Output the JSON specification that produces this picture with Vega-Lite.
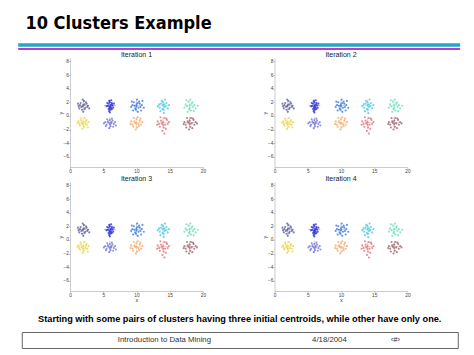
{
  "$schema": "https://vega.github.io/schema/vega-lite/v6.json",
  "background": "white",
  "padding": {"left": 16, "top": 15, "right": 16, "bottom": 4},
  "title": {"text": "10 Clusters Example", "anchor": "start", "frame": "bounds", "font": "DejaVu Sans Condensed, DejaVu Sans", "fontSize": 18, "fontWeight": "bold", "color": "#000000", "offset": 10, "dx": 9},
  "datasets": {
    "hdr": [{"band": "cyan"}, {"band": "magenta"}],
    "ftr": [{"label": "Introduction to Data Mining"}, {"label": "4/18/2004"}, {"label": "‹#›"}],
    "cent": [
      {"x": 2, "y": 1.5, "c": "a"}, {"x": 6, "y": 1.5, "c": "b"}, {"x": 10, "y": 1.5, "c": "c"}, {"x": 14, "y": 1.5, "c": "d"}, {"x": 18, "y": 1.5, "c": "e"},
      {"x": 2, "y": -1, "c": "f"}, {"x": 6, "y": -1, "c": "g"}, {"x": 10, "y": -1, "c": "h"}, {"x": 14, "y": -1, "c": "i"}, {"x": 18, "y": -1, "c": "j"}
    ],
    "pts": [
      {"x":1.6,"y":1.9,"c":"a"},{"x":2.3,"y":1.2,"c":"a"},{"x":1.9,"y":1.4,"c":"a"},{"x":2.5,"y":1.8,"c":"a"},{"x":1.4,"y":1.1,"c":"a"},{"x":2.1,"y":2.2,"c":"a"},{"x":1.8,"y":0.9,"c":"a"},{"x":2.7,"y":1.5,"c":"a"},{"x":2.0,"y":1.6,"c":"a"},{"x":1.5,"y":1.6,"c":"a"},{"x":2.2,"y":1.0,"c":"a"},{"x":2.4,"y":2.0,"c":"a"},{"x":1.7,"y":1.3,"c":"a"},{"x":2.9,"y":1.1,"c":"a"},{"x":1.2,"y":1.8,"c":"a"},{"x":2.0,"y":0.6,"c":"a"},{"x":2.6,"y":1.3,"c":"a"},{"x":1.9,"y":2.4,"c":"a"},{"x":1.3,"y":1.4,"c":"a"},{"x":2.2,"y":1.7,"c":"a"},
      {"x":5.8,"y":1.8,"c":"b"},{"x":6.1,"y":1.6,"c":"b"},{"x":6.3,"y":1.9,"c":"b"},{"x":5.9,"y":1.3,"c":"b"},{"x":6.2,"y":1.2,"c":"b"},{"x":6.0,"y":2.0,"c":"b"},{"x":5.7,"y":1.5,"c":"b"},{"x":6.4,"y":1.5,"c":"b"},{"x":6.1,"y":0.9,"c":"b"},{"x":5.9,"y":0.7,"c":"b"},{"x":6.3,"y":1.7,"c":"b"},{"x":6.0,"y":1.1,"c":"b"},{"x":5.6,"y":1.9,"c":"b"},{"x":6.2,"y":2.3,"c":"b"},{"x":6.5,"y":1.2,"c":"b"},{"x":5.8,"y":1.0,"c":"b"},{"x":6.1,"y":1.4,"c":"b"},{"x":6.0,"y":0.5,"c":"b"},{"x":6.6,"y":1.8,"c":"b"},{"x":5.5,"y":1.4,"c":"b"},{"x":6.3,"y":1.0,"c":"b"},{"x":5.9,"y":2.2,"c":"b"},
      {"x":9.4,"y":1.6,"c":"c"},{"x":10.2,"y":1.9,"c":"c"},{"x":10.6,"y":1.3,"c":"c"},{"x":9.8,"y":1.1,"c":"c"},{"x":10.0,"y":1.7,"c":"c"},{"x":10.4,"y":2.1,"c":"c"},{"x":9.6,"y":2.0,"c":"c"},{"x":10.8,"y":1.6,"c":"c"},{"x":9.9,"y":0.9,"c":"c"},{"x":10.3,"y":1.2,"c":"c"},{"x":9.2,"y":1.3,"c":"c"},{"x":10.1,"y":2.4,"c":"c"},{"x":10.7,"y":0.8,"c":"c"},{"x":9.7,"y":1.5,"c":"c"},{"x":10.5,"y":1.8,"c":"c"},{"x":9.5,"y":0.8,"c":"c"},{"x":11.1,"y":1.2,"c":"c"},{"x":10.0,"y":1.4,"c":"c"},{"x":9.3,"y":2.1,"c":"c"},{"x":10.2,"y":0.6,"c":"c"},{"x":10.9,"y":2.2,"c":"c"},
      {"x":13.7,"y":1.8,"c":"d"},{"x":14.2,"y":1.3,"c":"d"},{"x":14.0,"y":1.6,"c":"d"},{"x":13.5,"y":1.2,"c":"d"},{"x":14.5,"y":1.9,"c":"d"},{"x":14.1,"y":0.9,"c":"d"},{"x":13.8,"y":2.2,"c":"d"},{"x":14.4,"y":1.4,"c":"d"},{"x":13.9,"y":1.0,"c":"d"},{"x":14.3,"y":2.4,"c":"d"},{"x":13.4,"y":1.7,"c":"d"},{"x":14.7,"y":1.1,"c":"d"},{"x":14.0,"y":2.0,"c":"d"},{"x":13.6,"y":0.7,"c":"d"},{"x":14.2,"y":1.7,"c":"d"},{"x":14.9,"y":1.6,"c":"d"},{"x":13.2,"y":1.4,"c":"d"},{"x":14.1,"y":0.4,"c":"d"},
      {"x":17.6,"y":1.4,"c":"e"},{"x":18.3,"y":1.8,"c":"e"},{"x":18.0,"y":1.2,"c":"e"},{"x":17.8,"y":2.1,"c":"e"},{"x":18.5,"y":1.3,"c":"e"},{"x":18.2,"y":0.8,"c":"e"},{"x":17.4,"y":1.7,"c":"e"},{"x":18.7,"y":1.6,"c":"e"},{"x":17.9,"y":1.0,"c":"e"},{"x":18.1,"y":2.4,"c":"e"},{"x":17.2,"y":1.2,"c":"e"},{"x":18.4,"y":2.0,"c":"e"},{"x":18.9,"y":1.1,"c":"e"},{"x":17.7,"y":0.6,"c":"e"},{"x":18.0,"y":1.6,"c":"e"},{"x":18.6,"y":0.7,"c":"e"},{"x":17.5,"y":2.3,"c":"e"},{"x":19.2,"y":1.5,"c":"e"},
      {"x":1.7,"y":-0.7,"c":"f"},{"x":2.3,"y":-1.2,"c":"f"},{"x":2.0,"y":-0.9,"c":"f"},{"x":1.5,"y":-1.4,"c":"f"},{"x":2.5,"y":-0.6,"c":"f"},{"x":2.1,"y":-1.6,"c":"f"},{"x":1.8,"y":-1.1,"c":"f"},{"x":2.6,"y":-1.3,"c":"f"},{"x":1.3,"y":-0.8,"c":"f"},{"x":2.2,"y":-0.3,"c":"f"},{"x":1.9,"y":-1.9,"c":"f"},{"x":2.8,"y":-0.9,"c":"f"},{"x":1.4,"y":-1.2,"c":"f"},{"x":2.0,"y":-1.3,"c":"f"},{"x":2.4,"y":-0.8,"c":"f"},{"x":1.1,"y":-1.0,"c":"f"},{"x":2.7,"y":-1.7,"c":"f"},{"x":1.6,"y":-0.4,"c":"f"},
      {"x":5.7,"y":-0.8,"c":"g"},{"x":6.2,"y":-1.1,"c":"g"},{"x":6.0,"y":-0.6,"c":"g"},{"x":5.5,"y":-1.3,"c":"g"},{"x":6.4,"y":-0.7,"c":"g"},{"x":6.1,"y":-1.5,"c":"g"},{"x":5.8,"y":-1.0,"c":"g"},{"x":6.6,"y":-1.2,"c":"g"},{"x":5.3,"y":-0.9,"c":"g"},{"x":6.3,"y":-0.4,"c":"g"},{"x":5.9,"y":-1.8,"c":"g"},{"x":6.8,"y":-0.9,"c":"g"},{"x":5.4,"y":-1.5,"c":"g"},{"x":6.0,"y":-1.2,"c":"g"},{"x":6.5,"y":-1.6,"c":"g"},{"x":5.6,"y":-0.5,"c":"g"},{"x":6.2,"y":-0.9,"c":"g"},{"x":5.1,"y":-1.1,"c":"g"},{"x":6.9,"y":-1.4,"c":"g"},
      {"x":9.7,"y":-0.8,"c":"h"},{"x":10.3,"y":-1.2,"c":"h"},{"x":10.0,"y":-0.5,"c":"h"},{"x":9.4,"y":-1.3,"c":"h"},{"x":10.5,"y":-0.7,"c":"h"},{"x":10.1,"y":-1.7,"c":"h"},{"x":9.8,"y":-1.0,"c":"h"},{"x":10.7,"y":-1.3,"c":"h"},{"x":9.2,"y":-0.8,"c":"h"},{"x":10.2,"y":-0.2,"c":"h"},{"x":9.9,"y":-2.0,"c":"h"},{"x":10.9,"y":-0.9,"c":"h"},{"x":9.5,"y":-1.6,"c":"h"},{"x":10.0,"y":-1.1,"c":"h"},{"x":10.4,"y":-1.5,"c":"h"},{"x":9.1,"y":-1.2,"c":"h"},{"x":10.6,"y":-0.4,"c":"h"},{"x":9.6,"y":-0.3,"c":"h"},
      {"x":13.7,"y":-0.7,"c":"i"},{"x":14.3,"y":-1.3,"c":"i"},{"x":14.0,"y":-0.9,"c":"i"},{"x":13.4,"y":-1.2,"c":"i"},{"x":14.6,"y":-0.6,"c":"i"},{"x":14.1,"y":-1.7,"c":"i"},{"x":13.8,"y":-1.1,"c":"i"},{"x":14.7,"y":-1.2,"c":"i"},{"x":13.2,"y":-0.8,"c":"i"},{"x":14.2,"y":-0.3,"c":"i"},{"x":13.9,"y":-2.2,"c":"i"},{"x":14.9,"y":-0.9,"c":"i"},{"x":13.5,"y":-1.6,"c":"i"},{"x":14.0,"y":-1.3,"c":"i"},{"x":14.4,"y":-1.9,"c":"i"},{"x":13.1,"y":-1.3,"c":"i"},{"x":14.5,"y":-0.4,"c":"i"},{"x":13.6,"y":-0.2,"c":"i"},{"x":14.2,"y":-2.6,"c":"i"},
      {"x":17.7,"y":-0.8,"c":"j"},{"x":18.3,"y":-1.1,"c":"j"},{"x":18.0,"y":-0.7,"c":"j"},{"x":17.4,"y":-1.3,"c":"j"},{"x":18.6,"y":-0.6,"c":"j"},{"x":18.1,"y":-1.6,"c":"j"},{"x":17.8,"y":-1.0,"c":"j"},{"x":18.7,"y":-1.3,"c":"j"},{"x":17.2,"y":-0.9,"c":"j"},{"x":18.2,"y":-0.3,"c":"j"},{"x":17.9,"y":-2.0,"c":"j"},{"x":18.9,"y":-0.9,"c":"j"},{"x":17.5,"y":-1.7,"c":"j"},{"x":18.0,"y":-1.2,"c":"j"},{"x":18.4,"y":-1.8,"c":"j"},{"x":17.1,"y":-1.2,"c":"j"},{"x":18.5,"y":-0.4,"c":"j"},{"x":17.6,"y":-0.3,"c":"j"},{"x":19.1,"y":-1.1,"c":"j"}
    ]
  },
  "vconcat": [
    {
      "spacing": 0,
      "center": true,
      "resolve": {"scale": {"color": "independent", "strokeWidth": "independent"}},
      "vconcat": [
        {
          "width": 442, "height": 4,
          "data": {"name": "hdr"},
          "mark": {"type": "rule"},
          "encoding": {
            "y": {"field": "band", "type": "nominal", "scale": {"type": "point", "domain": ["cyan", "magenta"], "padding": 0}, "axis": null},
            "color": {"field": "band", "type": "nominal", "scale": {"domain": ["cyan", "magenta"], "range": ["#22a7c9", "#bb3ac6"]}, "legend": null},
            "strokeWidth": {"field": "band", "type": "ordinal", "scale": {"domain": ["cyan", "magenta"], "range": [3.5, 2]}, "legend": null}
          }
        },
        {
          "hconcat": [
            {
              "width": 133, "height": 109, "title": "Iteration 1",
              "encoding": {
                "x": {"field": "x", "type": "quantitative", "scale": {"domain": [0, 20], "nice": false, "zero": false}, "axis": {"values": [0, 5, 10, 15, 20], "title": null}},
                "y": {"field": "y", "type": "quantitative", "scale": {"domain": [-7.5, 8.5], "nice": false, "zero": false}, "axis": {"values": [-6, -4, -2, 0, 2, 4, 6, 8], "title": "y"}},
                "color": {"field": "c", "type": "nominal", "scale": {"domain": ["a","b","c","d","e","f","g","h","i","j"], "range": ["#55559a","#1f22cf","#2d6fd4","#3ec6e2","#63dcb0","#e6d23f","#6d6fd6","#f0a462","#df6b74","#9a5a66"]}, "legend": null}
              },
              "layer": [
                {"data": {"name": "cent"}, "mark": {"type": "point", "shape": "M-1,0L1,0M0,-1L0,1", "filled": false, "size": 140, "strokeWidth": 0.6, "opacity": 0.6}},
                {"data": {"name": "pts"}, "mark": {"type": "point", "filled": true, "size": 4.5, "opacity": 0.75, "strokeWidth": 0}}
              ]
            },
            {
              "width": 133, "height": 109, "title": "Iteration 2",
              "encoding": {
                "x": {"field": "x", "type": "quantitative", "scale": {"domain": [0, 20], "nice": false, "zero": false}, "axis": {"values": [0, 5, 10, 15, 20], "title": null}},
                "y": {"field": "y", "type": "quantitative", "scale": {"domain": [-7.5, 8.5], "nice": false, "zero": false}, "axis": {"values": [-6, -4, -2, 0, 2, 4, 6, 8], "title": "y"}},
                "color": {"field": "c", "type": "nominal", "scale": {"domain": ["a","b","c","d","e","f","g","h","i","j"], "range": ["#55559a","#1f22cf","#2d6fd4","#3ec6e2","#63dcb0","#e6d23f","#6d6fd6","#f0a462","#df6b74","#9a5a66"]}, "legend": null}
              },
              "layer": [
                {"data": {"name": "cent"}, "mark": {"type": "point", "shape": "M-1,0L1,0M0,-1L0,1", "filled": false, "size": 140, "strokeWidth": 0.6, "opacity": 0.6}},
                {"data": {"name": "pts"}, "mark": {"type": "point", "filled": true, "size": 4.5, "opacity": 0.75, "strokeWidth": 0}}
              ]
            }
          ],
          "spacing": 71.5,
          "bounds": "flush"
        },
        {
          "hconcat": [
            {
              "width": 133, "height": 109, "title": "Iteration 3",
              "encoding": {
                "x": {"field": "x", "type": "quantitative", "scale": {"domain": [0, 20], "nice": false, "zero": false}, "axis": {"values": [0, 5, 10, 15, 20], "title": "x"}},
                "y": {"field": "y", "type": "quantitative", "scale": {"domain": [-7.5, 8.5], "nice": false, "zero": false}, "axis": {"values": [-6, -4, -2, 0, 2, 4, 6, 8], "title": "y"}},
                "color": {"field": "c", "type": "nominal", "scale": {"domain": ["a","b","c","d","e","f","g","h","i","j"], "range": ["#55559a","#1f22cf","#2d6fd4","#3ec6e2","#63dcb0","#e6d23f","#6d6fd6","#f0a462","#df6b74","#9a5a66"]}, "legend": null}
              },
              "layer": [
                {"data": {"name": "cent"}, "mark": {"type": "point", "shape": "M-1,0L1,0M0,-1L0,1", "filled": false, "size": 140, "strokeWidth": 0.6, "opacity": 0.6}},
                {"data": {"name": "pts"}, "mark": {"type": "point", "filled": true, "size": 4.5, "opacity": 0.75, "strokeWidth": 0}}
              ]
            },
            {
              "width": 133, "height": 109, "title": "Iteration 4",
              "encoding": {
                "x": {"field": "x", "type": "quantitative", "scale": {"domain": [0, 20], "nice": false, "zero": false}, "axis": {"values": [0, 5, 10, 15, 20], "title": "x"}},
                "y": {"field": "y", "type": "quantitative", "scale": {"domain": [-7.5, 8.5], "nice": false, "zero": false}, "axis": {"values": [-6, -4, -2, 0, 2, 4, 6, 8], "title": "y"}},
                "color": {"field": "c", "type": "nominal", "scale": {"domain": ["a","b","c","d","e","f","g","h","i","j"], "range": ["#55559a","#1f22cf","#2d6fd4","#3ec6e2","#63dcb0","#e6d23f","#6d6fd6","#f0a462","#df6b74","#9a5a66"]}, "legend": null}
              },
              "layer": [
                {"data": {"name": "cent"}, "mark": {"type": "point", "shape": "M-1,0L1,0M0,-1L0,1", "filled": false, "size": 140, "strokeWidth": 0.6, "opacity": 0.6}},
                {"data": {"name": "pts"}, "mark": {"type": "point", "filled": true, "size": 4.5, "opacity": 0.75, "strokeWidth": 0}}
              ]
            }
          ],
          "spacing": 71.5,
          "bounds": "flush"
        }
      ]
    },
    {
      "width": 436, "height": 16,
      "view": {"stroke": "#666666", "strokeWidth": 1},
      "title": {"text": "Starting with some pairs of clusters having three initial centroids, while other have only one.", "font": "Liberation Sans", "fontSize": 9.2, "fontWeight": "bold", "color": "#000000", "offset": 8, "anchor": "middle", "frame": "group"},
      "data": {"name": "ftr"},
      "mark": {"type": "text", "font": "Liberation Sans", "fontSize": 7.8, "color": "#333333"},
      "encoding": {
        "x": {"field": "label", "type": "nominal", "scale": {"type": "point", "padding": 0, "domain": ["Introduction to Data Mining", " ", "  ", "   ", "    ", "4/18/2004", "     ", "‹#›"], "range": [142.7, 373.7]}, "axis": null},
        "text": {"field": "label", "type": "nominal"}
      }
    }
  ],
  "spacing": 11,
  "center": true,
  "config": {
    "view": {"stroke": null},
    "axis": {"labelFont": "Liberation Sans", "labelFontSize": 4.8, "labelColor": "#444444", "labelFlush": false, "labelOverlap": false, "domainColor": "#a8a8a8", "domainWidth": 0.6, "tickColor": "#a8a8a8", "tickSize": 1.5, "tickWidth": 0.6, "labelPadding": 0, "grid": false, "titleFont": "Liberation Sans", "titleFontSize": 5.5, "titleFontWeight": "normal", "titleColor": "#333333", "titlePadding": 0},
    "title": {"font": "Liberation Sans", "fontSize": 7, "fontWeight": "normal", "color": "#222222", "offset": 0.5, "frame": "group"}
  }
}
